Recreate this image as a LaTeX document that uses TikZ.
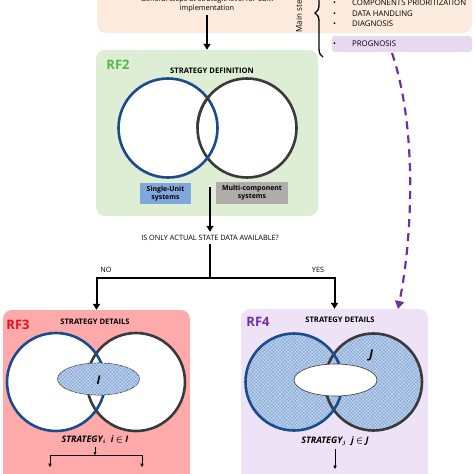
\documentclass[tikz,border=0pt]{standalone}
\usepackage{amsmath}
\usepackage{fontspec}
\setmainfont{Open Sans}
\usepackage{tikz}
\usetikzlibrary{arrows.meta,shapes.geometric,decorations.pathreplacing,patterns.meta}

\begin{document}
\begin{tikzpicture}[x=1pt,y=-1pt]
    \definecolor{mypeach}{RGB}{252,234,220}
    \definecolor{mygreenbg}{RGB}{222,238,212}
    \definecolor{mypink}{RGB}{255,170,170}
    \definecolor{mylilac}{RGB}{238,226,246}
    \definecolor{mylilacd}{RGB}{232,216,242}
    \definecolor{mygreen}{RGB}{84,184,72}
    \definecolor{myred}{RGB}{226,18,32}
    \definecolor{mypurple}{RGB}{112,48,160}
    \definecolor{myblued}{RGB}{24,76,140}
    \definecolor{mygrey}{RGB}{58,58,58}
    \definecolor{myblues}{RGB}{128,168,220}
    \definecolor{mygreys}{RGB}{176,172,170}
    \definecolor{myhatch}{RGB}{138,172,218}

    \useasboundingbox (0,0) rectangle (474,474);

    \tikzstyle{panel}=[rectangle,rounded corners=9pt,inner sep=0pt]  % 背景框
    \tikzstyle{rf}=[font=\fontsize{13pt}{14pt}\selectfont\bfseries]  % RF标签
    \tikzstyle{head}=[font=\fontsize{7.6pt}{8pt}\selectfont\bfseries]
    \tikzstyle{txt}=[font=\fontsize{7.3pt}{8.3pt}\selectfont,align=center]
    \tikzstyle{item}=[font=\fontsize{7.8pt}{9pt}\selectfont,anchor=west,inner sep=0pt]
    \tikzstyle{tag}=[font=\fontsize{6.9pt}{7.9pt}\selectfont\bfseries,align=center,inner sep=0pt]
    \tikzstyle{ring}=[line width=2.6pt]
    \tikzstyle{hatch}=[fill=myhatch,postaction={pattern={Hatch[angle=45,distance=2.4pt,line width=0.45pt]},pattern color=white!55!myhatch}]
    \tikzstyle{arr}=[line width=2pt,-{Triangle[length=6pt,width=7pt]}]
    \tikzstyle{thinarr}=[line width=0.8pt,-{Triangle[length=3.5pt,width=3.5pt]}]

    % 背景框
    \node[panel,fill=mypeach,minimum width=375pt,minimum height=53pt](top) at (284.5,6.5){};
    \node[panel,rounded corners=3pt,fill=mylilacd,minimum width=140pt,minimum height=16pt](prog) at (402,44){};
    \node[panel,fill=mygreenbg,minimum width=222pt,minimum height=166pt](rf2) at (207,133){};
    \node[panel,fill=mypink,minimum width=187pt,minimum height=190pt](rf3) at (96.5,405){};
    \node[panel,fill=mylilac,minimum width=187pt,minimum height=190pt](rf4) at (334.5,404){};

    % 顶部
    \node[txt](gen) at (207,4){General steps at strategic level for CbM\\implementation};
    \node[txt,font=\fontsize{8pt}{9pt}\selectfont,rotate=90](main) at (300,12){Main steps};
    \draw[line width=1.3pt,decorate,decoration={brace,amplitude=8pt}] (323,57) -- (323,-31);
    \node[item](it1) at (333,3){\makebox[19pt][l]{\textbullet}COMPONENTS PRIORITIZATION};
    \node[item](it2) at (333,13.5){\makebox[19pt][l]{\textbullet}DATA HANDLING};
    \node[item](it3) at (333,24){\makebox[19pt][l]{\textbullet}DIAGNOSIS};
    \node[item](it4) at (333,44){\makebox[19pt][l]{\textbullet}PROGNOSIS};

    % RF2
    \node[rf,text=mygreen](l2) at (118,65){RF2};
    \node[head](h2) at (212,71){STRATEGY DEFINITION};
    \fill[white] (247,128) circle (49.5) (168,128) circle (49.5);
    \draw[ring,draw=mygrey] (247,128) circle (49.5);
    \draw[ring,draw=myblued] (168,128) circle (49.5);
    \draw[ring,draw=mygrey] (247,128) ++(-49.5,0) arc[start angle=180,end angle=220,radius=49.5];
    \node[tag,fill=myblues,minimum width=51pt,minimum height=21pt](su) at (165.5,193.5){Single-Unit\\systems};
    \node[tag,fill=mygreys,minimum width=72pt,minimum height=22pt](mc) at (252,193){Multi-component\\systems};
    \coordinate (split) at (210,187);

    % 判断
    \node[txt](q) at (210,238){IS ONLY ACTUAL STATE DATA AVAILABLE?};
    \coordinate (fork) at (210,278);
    \node[txt](no) at (106,270){NO};
    \node[txt](yes) at (318,270){YES};

    % RF3
    \node[rf,text=myred](l3) at (18,325){RF3};
    \node[head](h3) at (95,322){STRATEGY DETAILS};
    \fill[white] (56,382) circle (49) (136,382) circle (49);
    \draw[ring,draw=mygrey] (136,382) circle (49);
    \draw[ring,draw=myblued] (56,382) circle (49);
    \draw[hatch,draw=mygrey,line width=0.6pt] (98.5,379) ellipse [x radius=41,y radius=16];
    \node[font=\fontsize{12pt}{13pt}\selectfont\bfseries\itshape](setI) at (98.5,380){I};
    \node[font=\fontsize{9pt}{10pt}\selectfont\bfseries\itshape](s3) at (95,440){STRATEGY$_{\boldsymbol{i}}$\ \ i $\boldsymbol{\in}$ I};
    \coordinate (b3) at (95,455);
    \coordinate (b3l) at (50,467);
    \coordinate (b3r) at (142,467);

    % RF4
    \node[rf,text=mypurple](l4) at (258,322){RF4};
    \node[head](h4) at (340,320){STRATEGY DETAILS};
    \path[hatch] (373.5,382) circle (48.5) (294,382) circle (48.5);
    \draw[ring,draw=mygrey] (373.5,382) circle (48.5);
    \draw[ring,draw=myblued] (294,382) circle (48.5);
    \draw[draw=mygrey,fill=white,line width=0.6pt] (335.5,380) ellipse [x radius=41.5,y radius=16];
    \node[font=\fontsize{12pt}{13pt}\selectfont\bfseries\itshape](setJ) at (371,355){J};
    \node[font=\fontsize{9pt}{10pt}\selectfont\bfseries\itshape](s4) at (335,441){STRATEGY$_{\boldsymbol{j}}$\ \ j $\boldsymbol{\in}$ J};
    \coordinate (b4) at (335,469);

    % 开始画线
    \coordinate (dstart) at (392,53);
    \coordinate (dend) at (398,309);
    \draw[arr](gen)--(rf2);
    \draw[arr](split)--(q);
    \draw[line width=2pt](q)--(fork);
    \draw[arr](fork)-|(rf3);
    \draw[arr](fork)-|(rf4);
    \draw[mypurple,line width=2.2pt,dash pattern=on 8pt off 6pt,-{Triangle[length=8pt,width=9pt]}]
        (dstart) .. controls (418,130) and (412,240) .. (dend);
    \draw[line width=0.8pt,-{Triangle[length=3pt,width=3pt]}](s3)--(b3);
    \draw[thinarr](b3)-|(b3l);
    \draw[thinarr](b3)-|(b3r);
    \draw[thinarr](s4)--(b4);
\end{tikzpicture}
\end{document}
